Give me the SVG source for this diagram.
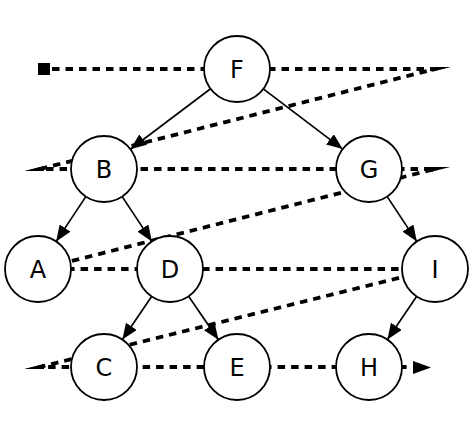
<svg xmlns="http://www.w3.org/2000/svg" width="474" height="443" viewBox="0 0 474 443">
<style>
.node circle{fill:#fff;stroke:#000;stroke-width:1.8}
.node text{font-family:"DejaVu Sans","Liberation Sans",sans-serif;font-size:24px;text-anchor:middle;fill:#000}
.edge{stroke:#000;stroke-width:1.7;fill:none;marker-end:url(#arr)}
.thread{stroke:#000;stroke-width:3.8;fill:none;stroke-dasharray:7.5 6;stroke-linejoin:miter;stroke-miterlimit:20}
.corner{stroke:#000;stroke-width:3.8;fill:none;stroke-linejoin:miter;stroke-miterlimit:20}
</style>
<defs>
<marker id="arr" markerUnits="userSpaceOnUse" markerWidth="16" markerHeight="13" refX="16" refY="6.5" orient="auto">
<path d="M0,0 L16,6.5 L0,13 z" fill="#000"/>
</marker>
</defs>
<g id="connectors">
<rect x="38" y="63" width="12" height="12" fill="#000"/>
<path class="thread" d="M52,69 H435 L40,169 H435 L40,269 H435 L40,367 H410"/>
<path d="M413,361 L431,367.5 L413,374 z" fill="#000"/>
<path class="corner" d="M431,69 L435,69 L431.1,70"/>
<path class="corner" d="M43.9,168 L40,169 L44,169"/>
<path class="corner" d="M431,169 L435,169 L431.1,170"/>
<path class="corner" d="M43.9,268 L40,269 L44,269"/>
<path class="corner" d="M431,269 L435,269 L431.1,270"/>
<path class="corner" d="M43.9,366 L40,367 L44,367"/>
<path class="edge" d="M210.6,88.8 L130.4,149.2"/>
<path class="edge" d="M263.3,88.9 L342.7,149.1"/>
<path class="edge" d="M85.8,196.6 L56.2,241.4"/>
<path class="edge" d="M122.2,196.6 L151.8,241.4"/>
<path class="edge" d="M387.2,196.6 L416.8,241.4"/>
<path class="edge" d="M151.6,296.4 L122.4,339.6"/>
<path class="edge" d="M188.6,296.2 L218.4,339.8"/>
<path class="edge" d="M416.6,296.4 L387.4,339.6"/>
</g>
<g id="node-F" class="node"><circle cx="237" cy="69" r="33"/><text x="237" y="77.5">F</text></g>
<g id="node-B" class="node"><circle cx="104" cy="169" r="33"/><text x="104" y="177.5">B</text></g>
<g id="node-G" class="node"><circle cx="369" cy="169" r="33"/><text x="369" y="177.5">G</text></g>
<g id="node-A" class="node"><circle cx="38" cy="269" r="33"/><text x="38" y="277.5">A</text></g>
<g id="node-D" class="node"><circle cx="170" cy="269" r="33"/><text x="170" y="277.5">D</text></g>
<g id="node-I" class="node"><circle cx="435" cy="269" r="33"/><text x="435" y="277.5">I</text></g>
<g id="node-C" class="node"><circle cx="104" cy="367" r="33"/><text x="104" y="375.5">C</text></g>
<g id="node-E" class="node"><circle cx="237" cy="367" r="33"/><text x="237" y="375.5">E</text></g>
<g id="node-H" class="node"><circle cx="369" cy="367" r="33"/><text x="369" y="375.5">H</text></g>
</svg>
